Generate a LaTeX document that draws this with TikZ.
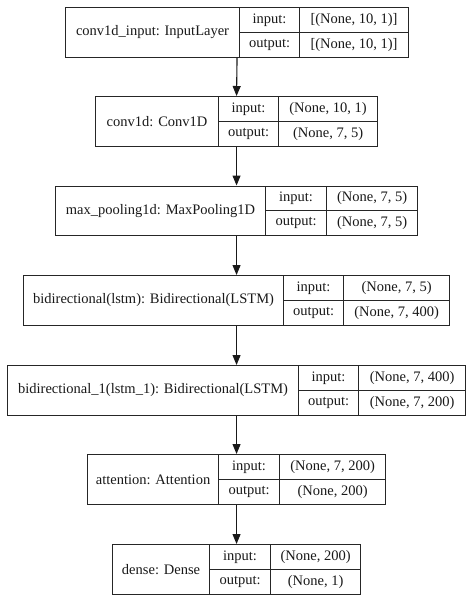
\documentclass[tikz,border=0pt]{standalone}
\usepackage{fontspec}
\setmainfont{Liberation Serif}
\usetikzlibrary{arrows.meta}
\tikzset{
  cell/.style={draw=black!85, line width=1.1pt, inner sep=0pt, anchor=north west,
    font=\fontsize{14.5}{16}\selectfont, text=black!90},
  whole/.style={draw=black!85, line width=1.1pt, inner sep=0pt, anchor=north west},
  flow/.style={draw=black!90, line width=1.1pt, -{Triangle[length=10pt,width=8pt]}}
}
% name, x0, x1, x2, x3, ytop, label, in, out
\newcommand\layerbox[9]{%
  \pgfmathsetmacro\wa{#3-#2}%
  \pgfmathsetmacro\wb{#4-#3}%
  \pgfmathsetmacro\wc{#5-#4}%
  \pgfmathsetmacro\wt{#5-#2}%
  \pgfmathsetmacro\ym{#6+24.75}%
  \node[whole, minimum width=\wt pt, minimum height=49.5pt] (#1) at (#2,#6) {};
  \node[cell, minimum width=\wa pt, minimum height=49.5pt] (#1-n) at (#2,#6) {#7};
  \node[cell, minimum width=\wb pt, minimum height=24.75pt] (#1-k1) at (#3,#6) {input:};
  \node[cell, minimum width=\wb pt, minimum height=24.75pt] (#1-k2) at (#3,\ym) {output:};
  \node[cell, minimum width=\wc pt, minimum height=24.75pt] (#1-v1) at (#4,#6) {#8};
  \node[cell, minimum width=\wc pt, minimum height=24.75pt] (#1-v2) at (#4,\ym) {#9};
}
\begin{document}
\begin{tikzpicture}[x=1pt,y=-1pt]
\useasboundingbox[fill=white] (0,0) rectangle (474,597);
\layerbox{L1}{65}{239}{299}{408}{7}{conv1d\_input: InputLayer}{[(None, 10, 1)]}{[(None, 10, 1)]}
\layerbox{L2}{95}{218}{278}{377}{96}{conv1d: Conv1D}{(None, 10, 1)}{(None, 7, 5)}
\layerbox{L3}{55}{265}{326}{417}{185.5}{max\_pooling1d: MaxPooling1D}{(None, 7, 5)}{(None, 7, 5)}
\layerbox{L4}{23}{283}{343}{449}{275}{bidirectional(lstm): Bidirectional(LSTM)}{(None, 7, 5)}{(None, 7, 400)}
\layerbox{L5}{7}{298}{358}{465}{365}{bidirectional\_1(lstm\_1): Bidirectional(LSTM)}{(None, 7, 400)}{(None, 7, 200)}
\layerbox{L6}{87}{218}{279}{385}{454}{attention: Attention}{(None, 7, 200)}{(None, 200)}
\layerbox{L7}{112}{209}{270}{360}{544}{dense: Dense}{(None, 200)}{(None, 1)}
\draw[flow] (L1.south) -- (L2.north);
\draw[flow] (L2.south) -- (L3.north);
\draw[flow] (L3.south) -- (L4.north);
\draw[flow] (L4.south) -- (L5.north);
\draw[flow] (L5.south) -- (L6.north);
\draw[flow] (L6.south) -- (L7.north);
\end{tikzpicture}
\end{document}
